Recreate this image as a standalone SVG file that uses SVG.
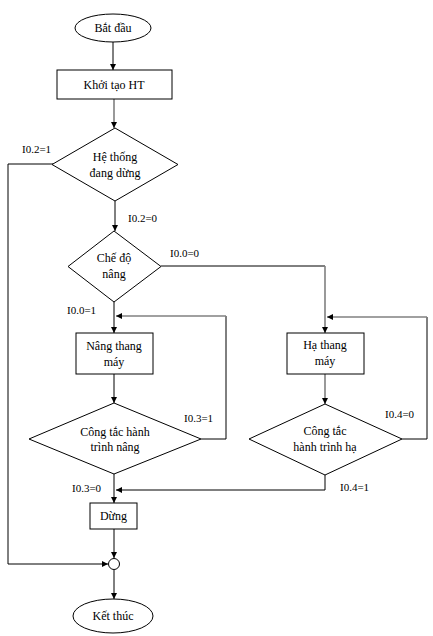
<svg xmlns="http://www.w3.org/2000/svg" width="433" height="636" viewBox="0 0 433 636">
<style>
.s{fill:#fff;stroke:#000;stroke-width:1}
.t{font-family:"Liberation Serif",serif;font-size:12px;fill:#000;text-anchor:middle}
.l{font-family:"Liberation Serif",serif;font-size:11px;fill:#000}
.c{fill:none;stroke:#000;stroke-width:1}
.g{fill:none;stroke:#808080;stroke-width:1.6}
</style>
<defs>
<marker id="a" markerUnits="userSpaceOnUse" markerWidth="8" markerHeight="8" refX="6" refY="3" orient="auto"><path d="M0,0 L6,3 L0,6 z" fill="#000"/></marker>
</defs>
<rect width="433" height="636" fill="#fff"/>
<g id="connectors">
<path class="c" d="M113,42 V70" marker-end="url(#a)"/>
<path class="g" d="M114,99 V128" marker-end="url(#a)"/>
<path class="c" d="M115,201 V231" marker-end="url(#a)"/>
<path class="c" d="M53,164 H8 V564 H108" marker-end="url(#a)"/>
<path class="c" d="M161,266 H325"/>
<path class="g" d="M325,266 V333" marker-end="url(#a)"/>
<path class="c" d="M114,302 V333" marker-end="url(#a)"/>
<path class="c" d="M201,439 H226 V316"/>
<path class="g" d="M226,316 H116" marker-end="url(#a)"/>
<path class="c" d="M114,374 V403" marker-end="url(#a)"/>
<path class="c" d="M402,439 H427 V317"/>
<path class="g" d="M427,317 H327" marker-end="url(#a)"/>
<path class="g" d="M325,374 V404" marker-end="url(#a)"/>
<path class="c" d="M325,475 V490 H116" marker-end="url(#a)"/>
<path class="c" d="M114,474 V503" marker-end="url(#a)"/>
<path class="c" d="M114,529 V558" marker-end="url(#a)"/>
<path class="c" d="M114,570 V599" marker-end="url(#a)"/>
</g>
<g id="start"><ellipse class="s" cx="113" cy="28" rx="38" ry="14"/><text class="t" x="113" y="32">Bắt đầu</text></g>
<g id="init"><rect class="s" x="57" y="70" width="115" height="29"/><text class="t" x="114" y="89">Khởi tạo HT</text></g>
<g id="stopped"><polygon class="s" points="115,128 178,164.5 115,201 52,164.5"/><text class="t" x="115" y="161">Hệ thống</text><text class="t" x="115" y="177">đang dừng</text></g>
<g id="mode"><polygon class="s" points="114,231 161,266.5 114,302 68,266.5"/><text class="t" x="114" y="262">Chế độ</text><text class="t" x="114" y="278">nâng</text></g>
<g id="up"><rect class="s" x="76" y="333" width="77" height="41"/><text class="t" x="114" y="350">Nâng thang</text><text class="t" x="114" y="366">máy</text></g>
<g id="upswitch"><polygon class="s" points="114,403 201,439 114,474 29,439"/><text class="t" x="115" y="436">Công tắc hành</text><text class="t" x="115" y="451">trình nâng</text></g>
<g id="down"><rect class="s" x="287" y="333" width="77" height="41"/><text class="t" x="325" y="349">Hạ thang</text><text class="t" x="325" y="365">máy</text></g>
<g id="downswitch"><polygon class="s" points="325,404 402,439 325,475 249,439"/><text class="t" x="325" y="435">Công tắc</text><text class="t" x="325" y="451">hành trình hạ</text></g>
<g id="stop"><rect class="s" x="90" y="503" width="47" height="26"/><text class="t" x="113.5" y="520">Dừng</text></g>
<g id="join"><circle class="s" cx="114" cy="564" r="5.5"/></g>
<g id="end"><ellipse class="s" cx="113" cy="616" rx="40" ry="17"/><text class="t" x="113" y="620">Kết thúc</text></g>
<g id="labels">
<text class="l" x="22" y="153">I0.2=1</text>
<text class="l" x="128" y="222">I0.2=0</text>
<text class="l" x="170" y="257">I0.0=0</text>
<text class="l" x="67" y="314">I0.0=1</text>
<text class="l" x="184" y="422">I0.3=1</text>
<text class="l" x="72" y="492">I0.3=0</text>
<text class="l" x="385" y="418">I0.4=0</text>
<text class="l" x="340" y="491">I0.4=1</text>
</g>
</svg>
